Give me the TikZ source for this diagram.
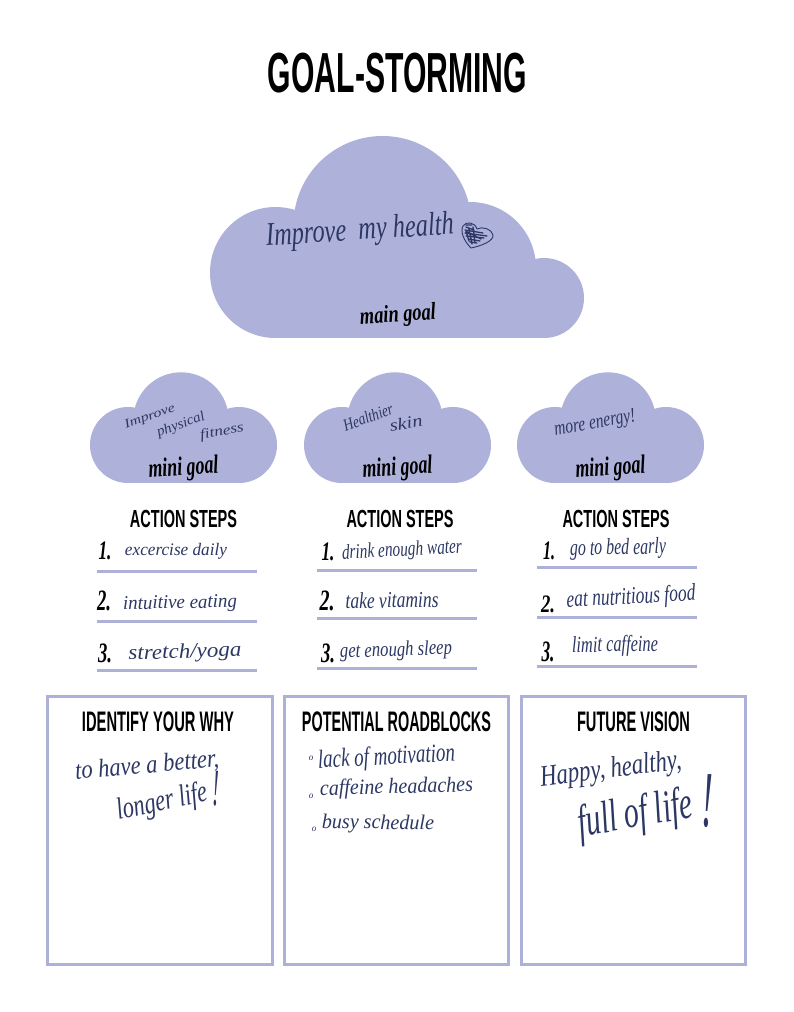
\documentclass[tikz,border=0pt]{standalone}
\usepackage{fontspec}
\usepackage{graphicx}
\setmainfont{Liberation Serif}
\newfontfamily\headfont{Liberation Sans}[BoldFont=* Bold]
\newfontfamily\handfont{Liberation Serif}
\definecolor{cloudblue}{HTML}{AEB2DA}
\definecolor{rulelilac}{HTML}{ADB1D8}
\definecolor{inkblue}{HTML}{2C3763}
\newcommand{\fitbox}[3]{\resizebox*{#1pt}{#2pt}{#3}}
\tikzset{
  cloudfill/.style={fill=cloudblue,draw=none},
  headtext/.style={inner sep=0pt,text=black,font=\headfont\bfseries},
  handtext/.style={inner sep=0pt,text=inkblue,font=\handfont\itshape},
  tagtext/.style={inner sep=0pt,text=black,font=\handfont\bfseries\itshape},
  stepline/.style={draw=rulelilac,line width=3pt},
  panel/.style={draw=rulelilac,line width=3pt,fill=white},
}
\begin{document}
\begin{tikzpicture}[x=1pt,y=-1pt]
\useasboundingbox (0,0) rectangle (794,1012);
\fill[white] (0,0) rectangle (794,1012);
% title
\node[headtext] (title) at (397.5,73.5) {\fitbox{259}{40}{GOAL-STORMING}};
% main cloud
\fill[cloudfill] (275.5,272.5) circle (65.5);
\fill[cloudfill] (382.5,225) circle (89);
\fill[cloudfill] (470,268) circle (66);
\fill[cloudfill] (544,298) circle (40);
\fill[cloudfill] (275.5,272.5) rectangle (544,338);
\node[handtext,rotate=3.5] (mainhand) at (360,232) {\fitbox{188}{30}{Improve\ \ my health}};
% heart
\begin{scope}[shift={(478,235)},line cap=round,line join=round,draw=inkblue]
\draw[line width=.9pt] (-7,13) .. controls (-14,6) and (-18,-3) .. (-15,-9) .. controls (-12,-14) and (-3,-13) .. (-1,-6) .. controls (4,-9) and (14,-6) .. (15,0) .. controls (16,6) and (3,11) .. (-7,13) -- cycle;
\draw[line width=1.3pt] (-12,-8) -- (-4,-5) (-13,-5) -- (5,-2) (-13,-2) -- (9,1) (-12,1) -- (6,3) (-10,4) -- (2,6) (-8,7) -- (-1,8) (-12,-10) -- (-6,-10) (-11,-3) -- (3,4) (-9,-6) -- (-6,9) (-5,-8) -- (-3,8) (-12,-4) -- (-9,6);
\end{scope}
\node[tagtext,rotate=4] (maintag) at (398,316) {\fitbox{76}{22}{main goal}};
% mini clouds
\foreach \dx/\nm in {0/a,214/b,427/c}{
  \begin{scope}[xshift=\dx pt]
  \fill[cloudfill] (128,445) circle (38);
  \fill[cloudfill] (181,420) circle (47.7);
  \fill[cloudfill] (239,445) circle (38);
  \fill[cloudfill] (128,445) rectangle (239,483);
  \end{scope}
  \pgfmathsetmacro{\tagx}{183.5+\dx}
  \node[tagtext,rotate=4] (tag\nm) at (\tagx,469) {\fitbox{70}{24}{mini goal}};
}
\node[handtext,rotate=20] (h1a) at (150,417) {\fitbox{53}{11}{Improve}};
\node[handtext,rotate=20] (h1b) at (181,425) {\fitbox{50}{13}{physical}};
\node[handtext,rotate=10] (h1c) at (222,432) {\fitbox{44}{13}{fitness}};
\node[handtext,rotate=20] (h2a) at (368,417) {\fitbox{52}{12}{Healthier}};
\node[handtext,rotate=9] (h2b) at (406,423) {\fitbox{33}{12}{skin}};
\node[handtext,rotate=10] (h3a) at (595,424) {\fitbox{82}{18}{more energy!}};
% action steps
\foreach \hx/\nm in {183.5/a,400/b,616/c}{
  \node[headtext] (act\nm) at (\hx,518.5) {\fitbox{107}{17.5}{ACTION STEPS}};
}
% rules
\draw[stepline] (97,571) -- (257,571);
\draw[stepline] (97,621) -- (257,621);
\draw[stepline] (97,670) -- (257,670);
\draw[stepline] (317,570) -- (477,570);
\draw[stepline] (317,618) -- (477,618);
\draw[stepline] (317,668) -- (477,668);
\draw[stepline] (537,567) -- (697,567);
\draw[stepline] (537,617) -- (697,617);
\draw[stepline] (537,666) -- (697,666);
% numbers
\node[tagtext] (n1a) at (105,551) {\fitbox{13}{18}{1.}};
\node[tagtext] (n2a) at (104,601) {\fitbox{14}{20}{2.}};
\node[tagtext] (n3a) at (105,653) {\fitbox{14}{19}{3.}};
\node[tagtext] (n1b) at (328,552) {\fitbox{13}{18}{1.}};
\node[tagtext] (n2b) at (327,601) {\fitbox{15}{20}{2.}};
\node[tagtext] (n3b) at (328,653) {\fitbox{14}{19}{3.}};
\node[tagtext] (n1c) at (549,551) {\fitbox{12}{18}{1.}};
\node[tagtext] (n2c) at (548,604) {\fitbox{14}{17}{2.}};
\node[tagtext] (n3c) at (548,652) {\fitbox{13}{20}{3.}};
% step texts
\node[handtext] (s1a) at (176,551) {\fitbox{102}{16}{excercise daily}};
\node[handtext,rotate=1] (s2a) at (180,604) {\fitbox{114}{17}{intuitive eating}};
\node[handtext,rotate=2] (s3a) at (185,653) {\fitbox{113}{19}{stretch/yoga}};
\node[handtext,rotate=3] (s1b) at (402,551) {\fitbox{120}{19}{drink enough water}};
\node[handtext,rotate=1] (s2b) at (392,600) {\fitbox{93}{16}{take vitamins}};
\node[handtext,rotate=2] (s3b) at (396,651) {\fitbox{112}{19}{get enough sleep}};
\node[handtext,rotate=1] (s1c) at (618,549) {\fitbox{96}{21}{go to bed early}};
\node[handtext,rotate=3] (s2c) at (631,598) {\fitbox{129}{22}{eat nutritious food}};
\node[handtext,rotate=1] (s3c) at (615,646) {\fitbox{86}{21}{limit caffeine}};
% panels
\draw[panel] (47,696) rectangle (272.5,964);
\draw[panel] (284,696) rectangle (508.5,964);
\draw[panel] (521,696) rectangle (745.5,964);
\node[headtext] (p1) at (158,722) {\fitbox{152}{20}{IDENTIFY YOUR WHY}};
\node[headtext] (p2) at (396.5,722) {\fitbox{189}{20}{POTENTIAL ROADBLOCKS}};
\node[headtext] (p3) at (633.5,722) {\fitbox{113}{20}{FUTURE VISION}};
% panel texts
\node[handtext,rotate=5] (w1) at (147,766) {\fitbox{144}{22}{to have a better,}};
\node[handtext,rotate=12] (w2) at (162,803) {\fitbox{92}{28}{longer life}};
\node[handtext] (w3) at (216,789) {\fitbox{7}{35}{!}};
\node[handtext,rotate=3] (r1) at (386.5,758) {\fitbox{137}{24}{lack of motivation}};
\node[handtext,rotate=1.5] (r2) at (396.5,788) {\fitbox{153}{20}{caffeine headaches}};
\node[handtext,rotate=-1] (r3) at (378,824) {\fitbox{112}{19}{busy schedule}};
\node[handtext,rotate=7] (v1) at (611,770.5) {\fitbox{142}{27}{Happy, healthy,}};
\node[handtext,rotate=10] (v2) at (635.5,816) {\fitbox{115}{42}{full of life}};
\node[handtext] (v3) at (707,801) {\fitbox{12}{53}{!}};
\node[handtext] (b1) at (311,758) {\fitbox{4.5}{4.5}{o}};
\node[handtext] (b2) at (311,796) {\fitbox{4.5}{4.5}{o}};
\node[handtext] (b3) at (314,829) {\fitbox{4.5}{4.5}{o}};
\end{tikzpicture}
\end{document}
